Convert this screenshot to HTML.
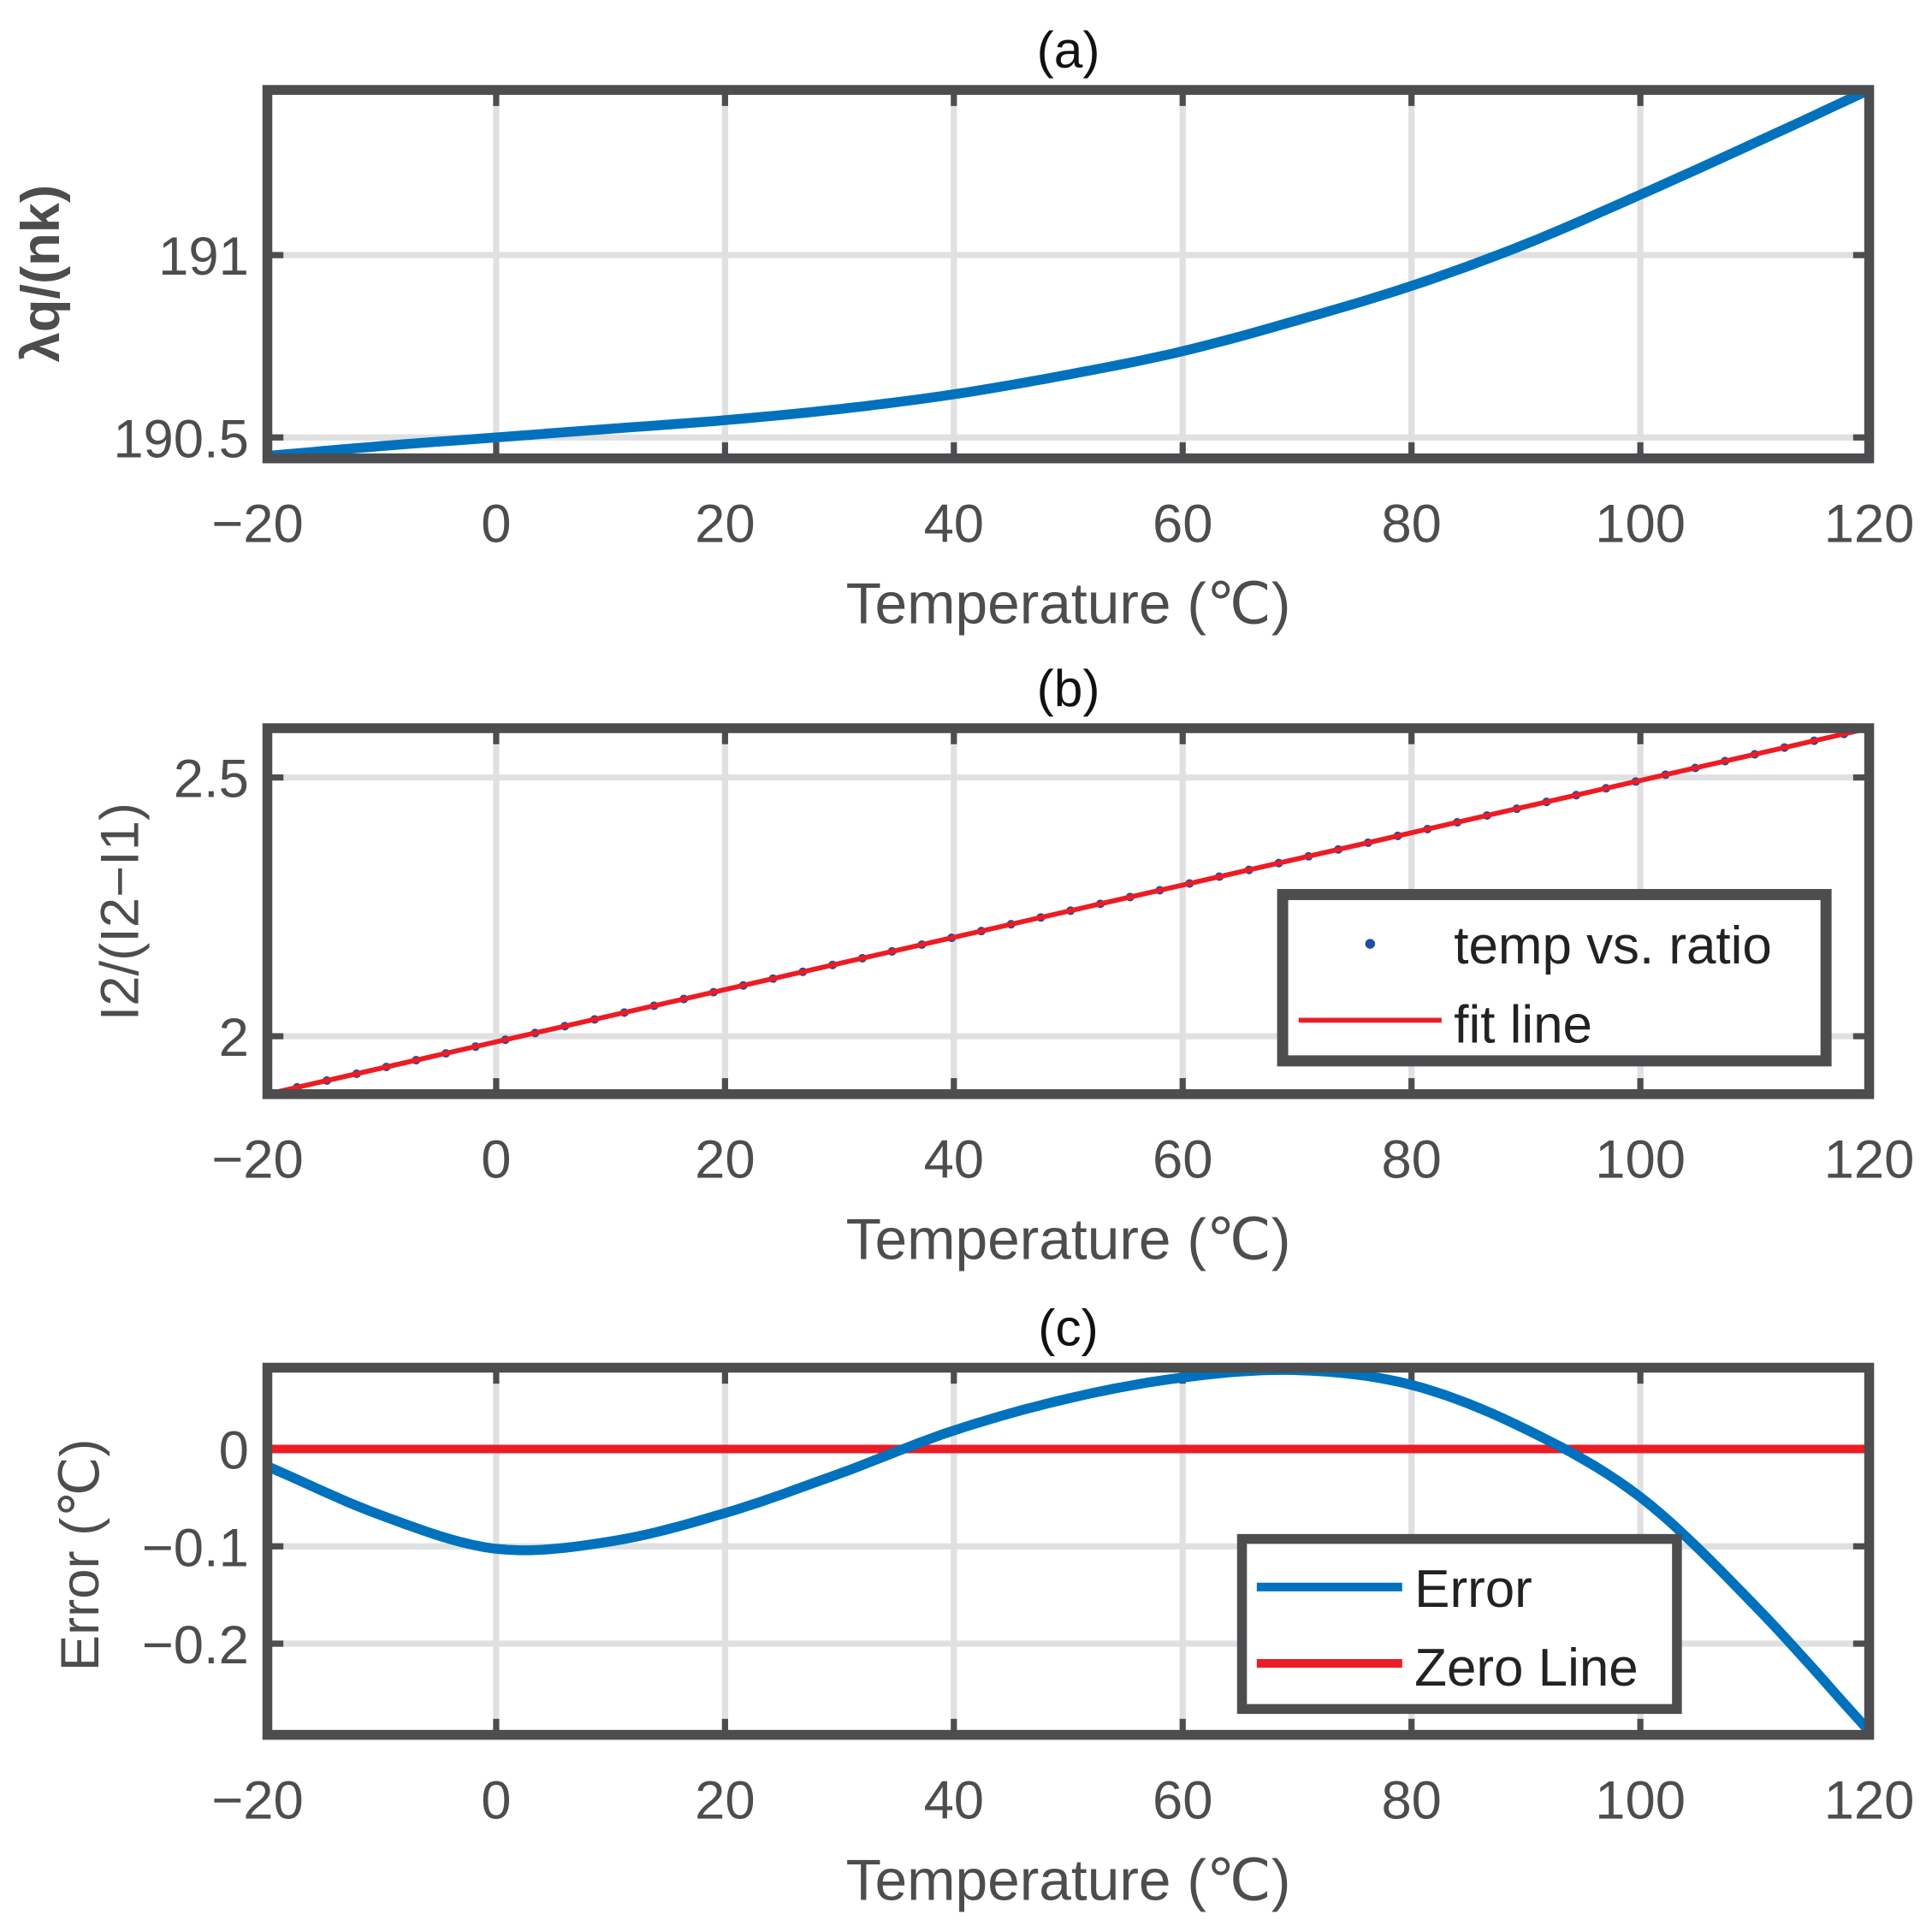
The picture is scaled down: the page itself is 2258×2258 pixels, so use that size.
<!DOCTYPE html>
<html><head><meta charset="utf-8"><style>
html,body{margin:0;padding:0;background:#fff}
svg{display:block}
text{font-family:"Liberation Sans",sans-serif}
</style></head><body>
<svg id="s" width="2258" height="2258" viewBox="0 0 1568 1568" xmlns="http://www.w3.org/2000/svg">
<g id="g"></g>
</svg>
<script>
var g=document.getElementById('g');var h='';
var X=function(t){return 217+(t+20)*1300/140;};
var DK='#4d4d4f',GR='#e0e0e2';
function panel(top,bot,yt,title,ylab,ylx,yly,ylbold){
 for(var t=0;t<=100;t+=20){h+='<line x1="'+X(t)+'" y1="'+top+'" x2="'+X(t)+'" y2="'+bot+'" stroke="'+GR+'" stroke-width="5"/>';}
 yt.forEach(function(p){h+='<line x1="217" y1="'+p[0]+'" x2="1517" y2="'+p[0]+'" stroke="'+GR+'" stroke-width="5"/>';});
 for(var t=-20;t<=120;t+=20){var x=X(t);
  h+='<line x1="'+x+'" y1="'+top+'" x2="'+x+'" y2="'+(top+13)+'" stroke="'+DK+'" stroke-width="5"/>';
  h+='<line x1="'+x+'" y1="'+bot+'" x2="'+x+'" y2="'+(bot-13)+'" stroke="'+DK+'" stroke-width="5"/>';
  h+='<text x="'+(x+(t<0?-8:0))+'" y="'+(bot+68)+'" font-size="44" fill="'+DK+'" text-anchor="middle">'+(t<0?'\u2212'+(-t):t)+'</text>';}
 yt.forEach(function(p){
  h+='<line x1="217" y1="'+p[0]+'" x2="230" y2="'+p[0]+'" stroke="'+DK+'" stroke-width="5"/>';
  h+='<line x1="1517" y1="'+p[0]+'" x2="1504" y2="'+p[0]+'" stroke="'+DK+'" stroke-width="5"/>';
  h+='<text x="202" y="'+(p[0]+16)+'" font-size="44" fill="'+DK+'" text-anchor="end">'+p[1]+'</text>';});
 h+='<text x="867" y="'+(top-18)+'" font-size="42" fill="#111" text-anchor="middle">'+title+'</text>';
 h+='<text x="867" y="'+(bot+134)+'" font-size="47" fill="'+DK+'" text-anchor="middle">Temperature (\u2103)</text>';
 h+='<text transform="translate('+ylx+','+yly+') rotate(-90)" font-size="44" '+(ylbold?'font-weight="bold" ':'')+'fill="'+DK+'" text-anchor="middle">'+ylab+'</text>';
}
function box(top,bot){h+='<rect x="217" y="'+top+'" width="1300" height="'+(bot-top)+'" fill="none" stroke="'+DK+'" stroke-width="8"/>';}
function spline(pts){
 var n=pts.length;
 var ext=[2*pts[0]-pts[1]].concat(pts,[2*pts[n-1]-pts[n-2]]);
 var out=[];for(var i=0;i<n-1;i++){var p0=ext[i],p1=ext[i+1],p2=ext[i+2],p3=ext[i+3];
  for(var k=0;k<10;k++){var s=k/10,s2=s*s,s3=s2*s;
   var y=0.5*((2*p1)+(-p0+p2)*s+(2*p0-5*p1+4*p2-p3)*s2+(-p0+3*p1-3*p2+p3)*s3);
   out.push(X(-20+(i+s)*10).toFixed(1)+','+y.toFixed(1));}}
 out.push(X(120)+','+pts[n-1]);return out.join(' ');}
panel(73,372,[[207,'191'],[355,'190.5']],'(a)','\u03bbq/(nk)',48,222,true);
h+='<polyline points="'+spline([370,362,355,348,341,332,320,304,285,260,232,198,158,116,73])+'" fill="none" stroke="#0072BD" stroke-width="8"/>';
box(73,372);
panel(591,888,[[631,'2.5'],[841,'2']],'(b)','I2/(I2\u2212I1)',112,740,false);
for(var t=-20;t<=120.01;t+=2.6){var x=X(t),y=888-(t+20)/140*297;h+='<circle cx="'+x+'" cy="'+y+'" r="3.5" fill="#1f4fa0"/>';}
h+='<line x1="217" y1="888" x2="1517" y2="591" stroke="#ed1c24" stroke-width="4"/>';
box(591,888);
h+='<rect x="1041" y="726" width="441" height="135" fill="#fff" stroke="'+DK+'" stroke-width="9"/>';
h+='<circle cx="1112" cy="766" r="4" fill="#1f4fa0"/>';
h+='<text x="1180" y="782" font-size="43" fill="#222">temp vs. ratio</text>';
h+='<line x1="1054" y1="828" x2="1170" y2="828" stroke="#ed1c24" stroke-width="4"/>';
h+='<text x="1180" y="846" font-size="43" fill="#222">fit line</text>';
panel(1110,1408,[[1176,'0'],[1255,'\u22120.1'],[1334,'\u22120.2']],'(c)','Error (\u2103)',80,1262,false);
h+='<line x1="217" y1="1176" x2="1517" y2="1176" stroke="#ed1c24" stroke-width="7"/>';
h+='<polyline points="'+spline([1190,1230,1257,1251,1228,1196,1161,1135,1118,1112,1124,1160,1215,1303,1405])+'" fill="none" stroke="#0072BD" stroke-width="8"/>';
box(1110,1408);
h+='<rect x="1008" y="1249" width="353" height="138" fill="#fff" stroke="'+DK+'" stroke-width="8"/>';
h+='<line x1="1020" y1="1288" x2="1138" y2="1288" stroke="#0072BD" stroke-width="7"/>';
h+='<text x="1148" y="1304" font-size="43" fill="#222">Error</text>';
h+='<line x1="1020" y1="1350" x2="1138" y2="1350" stroke="#ed1c24" stroke-width="7"/>';
h+='<text x="1148" y="1368" font-size="43" fill="#222">Zero Line</text>';
g.innerHTML=h;
</script>
</body></html>
